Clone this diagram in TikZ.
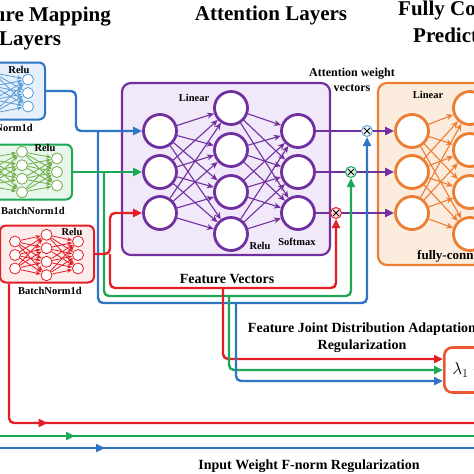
\documentclass[tikz,border=0pt]{standalone}
\usepackage{fontspec}
\setmainfont{Liberation Serif}
\usepackage{amsmath}
\usetikzlibrary{arrows.meta, calc, positioning, decorations.markings}

\definecolor{fmblue}{RGB}{46,117,196}
\definecolor{fmgreen}{RGB}{28,168,84}
\definecolor{fmred}{RGB}{228,30,37}
\definecolor{attpurple}{RGB}{112,48,160}
\definecolor{fcorange}{RGB}{237,125,49}
\definecolor{cellblue}{RGB}{91,155,213}
\definecolor{cellgreen}{RGB}{112,173,71}
\definecolor{lamred}{RGB}{234,88,48}
\definecolor{attfill}{RGB}{241,233,249}
\definecolor{fcfill}{RGB}{252,236,222}
\definecolor{bluefill}{RGB}{230,240,252}
\definecolor{greenfill}{RGB}{232,246,236}
\definecolor{redfill}{RGB}{253,236,236}

\begin{document}
\begin{tikzpicture}
  [
    x=1pt, y=-1pt,
    >={Triangle[length=9pt,width=8pt]},
    headtext/.style = {font=\fontsize{21}{24}\selectfont\bfseries, inner sep=0pt},
    bustext/.style  = {font=\fontsize{14}{17}\selectfont\bfseries, inner sep=0pt},
    cellnote/.style = {font=\fontsize{10.5}{12}\selectfont\bfseries, inner sep=0pt},
    wire/.style     = {line width=2.4pt, rounded corners=5pt},
    neuron/.style   = {draw, circle, fill=white, line width=2.8pt, minimum size=33pt, inner sep=0pt},
    cell/.style     = {draw, circle, fill=white, line width=0.8pt, minimum size=11pt, inner sep=0pt},
    link/.style     = {-{Stealth[length=5pt,width=4pt]}, line width=0.8pt},
    biglink/.style  = {-{Stealth[length=7pt,width=6pt]}, line width=1.1pt},
    layerbox/.style = {rounded corners=9pt, line width=2.2pt},
    mapbox/.style   = {draw, rectangle, rounded corners=6pt, line width=2pt},
    mult/.style     = {draw, circle, line width=1pt, minimum size=11pt, inner sep=0pt,
                       path picture={\draw[black, line width=0.9pt]
                         ($(path picture bounding box.center)+(-3,-3)$) -- +(6,6)
                         ($(path picture bounding box.center)+(-3,3)$) -- +(6,-6);}},
    midarrow/.style = {postaction={decorate, decoration={markings,
                         mark=at position #1 with {\arrow{Triangle[length=9pt,width=8pt]}}}}},
  ]

  \useasboundingbox (0,0) rectangle (474,474);
  \clip (0,0) rectangle (474,474);

  % titles
  \node (maptitle) at (111,21) [headtext, anchor=base east] {Feature Mapping};
  \node (maptitle2) at (-1,45) [headtext, anchor=base west] {Layers};
  \node (atttitle) at (271,20) [headtext, anchor=base] {Attention Layers};
  \node (fctitle) at (398,15) [headtext, anchor=base west] {Fully Connected};
  \node (fctitle2) at (413,42) [headtext, anchor=base west] {Prediction Layers};

  % layer boxes
  \draw[layerbox, draw=attpurple, fill=attfill] (122,83) rectangle (330,255);
  \draw[layerbox, draw=fcorange, fill=fcfill] (378,83) rectangle (560,265);

  % feature mapping blocks
  \node (bluemap) at (0,91) [mapbox, draw=fmblue, fill=bluefill, minimum width=90pt, minimum height=57pt] {};
  \node (greenmap) at (21,172) [mapbox, draw=fmgreen, fill=greenfill, minimum width=102pt, minimum height=55pt] {};
  \node (redmap) at (47,254) [mapbox, draw=fmred, fill=redfill, minimum width=94pt, minimum height=57pt] {};

  \foreach \blk/\clr/\xa/\dx/\cy in {b/cellblue/-42/35/93, g/cellgreen/-13/35/172, r/fmred/15/31.5/255}
  {
    \foreach \i in {1,2,3}
    {
      \node (\blk-in-\i) at (\xa, \cy+13.5*\i-27) [cell, draw=\clr] {};
      \node (\blk-out-\i) at (\xa+2*\dx, \cy+13.5*\i-27) [cell, draw=\clr] {};
    }
    \foreach \j in {1,...,4}
      \node (\blk-hid-\j) at (\xa+\dx, \cy+13.5*\j-33.75) [cell, draw=\clr] {};
    \foreach \i in {1,2,3}
      \foreach \j in {1,...,4}
      {
        \draw[link, \clr] (\blk-in-\i) -- (\blk-hid-\j);
        \draw[link, \clr] (\blk-hid-\j) -- (\blk-out-\i);
      }
  }

  \node (brelu) at (19,70) [cellnote] {Relu};
  \node (grelu) at (45,148) [cellnote] {Relu};
  \node (rrelu) at (72,232) [cellnote] {Relu};
  \node (bnorm) at (33,128) [cellnote, anchor=east] {BatchNorm1d};
  \node (gnorm) at (65,211) [cellnote, anchor=east] {BatchNorm1d};
  \node (rnorm) at (50,291) [cellnote] {BatchNorm1d};

  % attention and fully connected neurons
  \foreach \i/\y in {1/131,2/172,3/213}
  {
    \node (att-in-\i) at (160,\y) [neuron, draw=attpurple] {};
    \node (att-out-\i) at (298,\y) [neuron, draw=attpurple] {};
    \node (fc-in-\i) at (412,\y) [neuron, draw=fcorange] {};
  }
  \foreach \j/\y in {1/108,2/150,3/192,4/234}
  {
    \node (att-hid-\j) at (231,\y) [neuron, draw=attpurple] {};
    \node (fc-hid-\j) at (470,\y) [neuron, draw=fcorange] {};
  }
  \foreach \i in {1,2,3}
    \foreach \j in {1,...,4}
    {
      \draw[biglink, attpurple] (att-in-\i) -- (att-hid-\j);
      \draw[biglink, attpurple] (att-hid-\j) -- (att-out-\i);
      \draw[biglink, fcorange] (fc-in-\i) -- (fc-hid-\j);
    }

  \node (attlin) at (194,98) [cellnote] {Linear};
  \node (attrelu) at (260,246) [cellnote] {Relu};
  \node (attsoft) at (297,242) [cellnote] {Softmax};
  \node (fclin) at (428,95) [cellnote] {Linear};
  \node (fcname) at (417,256) [anchor=west, inner sep=0pt, font=\fontsize{13}{15}\selectfont\bfseries] {fully-connected};
  \node (attweight) at (352,80) [align=center, inner sep=0pt, font=\fontsize{12}{15}\selectfont\bfseries] {Attention weight\\vectors};

  % weighted outputs
  \foreach \i in {1,2,3}
    \draw[wire, attpurple, ->] (att-out-\i) -- (fc-in-\i);
  \node (mult-1) at (367,131) [mult, draw=fmblue!70, fill=fmblue!8] {};
  \node (mult-2) at (351,172) [mult, draw=fmgreen, fill=fmgreen!15] {};
  \node (mult-3) at (336,213) [mult, draw=fmred, fill=fmred!15] {};

  % regularization box
  \node (lam) at (443,370) [anchor=west, draw=lamred, line width=2.6pt, rounded corners=8pt, fill=white,
    minimum height=45pt, inner xsep=8pt, font=\fontsize{18}{20}\selectfont] {$\lambda_1\cdot\mathcal{L}_{d}$};

  % feature vector buses
  \coordinate (blue-knee) at (76,131);
  \coordinate (blue-split) at (98,131);
  \coordinate (blue-bus) at (367,303);
  \coordinate (green-split) at (104,172);
  \coordinate (green-bus) at (351,296);
  \coordinate (red-split) at (110,254);
  \coordinate (red-bus) at (336,288);

  \draw[wire, fmblue, ->] (bluemap.east) -| (blue-knee) -- (att-in-1);
  \draw[wire, fmblue, ->] (blue-split) |- (blue-bus) -- (mult-1);
  \draw[wire, fmgreen, ->] (greenmap.east) -- (att-in-2);
  \draw[wire, fmgreen, ->] (green-split) |- (green-bus) -- (mult-2);
  \draw[wire, fmred, ->] (redmap.east) -- (red-split) |- (att-in-3);
  \draw[wire, fmred, ->] (red-split) |- (red-bus) -- (mult-3);

  \coordinate (red-drop) at (223,288);
  \coordinate (green-drop) at (229,296);
  \coordinate (blue-drop) at (236,303);
  \draw[wire, fmred, ->] (red-drop) |- ($(lam.west)+(0,-11)$);
  \draw[wire, fmgreen, ->] (green-drop) |- (lam.west);
  \draw[wire, fmblue, ->] (blue-drop) |- ($(lam.west)+(0,11)$);

  % input weight lines
  \coordinate (red-low) at ($(redmap.south west)+(10,0)$);
  \coordinate (red-end) at (480,423);
  \coordinate (green-start) at (-5,436);
  \coordinate (green-end) at (480,436);
  \coordinate (blue-start) at (-5,448);
  \coordinate (blue-end) at (480,448);
  \draw[wire, fmred, midarrow=176pt] (red-low) |- (red-end);
  \draw[wire, fmgreen, midarrow=80pt] (green-start) -- (green-end);
  \draw[wire, fmblue, midarrow=110pt] (blue-start) -- (blue-end);

  \node (fvlabel) at (227,279) [bustext] {Feature Vectors};
  \node (jdalabel) at (362,338) [bustext, align=center] {Feature Joint Distribution Adaptation\\Regularization};
  \node (iwlabel) at (309,466) [bustext] {Input Weight F-norm Regularization};

\end{tikzpicture}
\end{document}
